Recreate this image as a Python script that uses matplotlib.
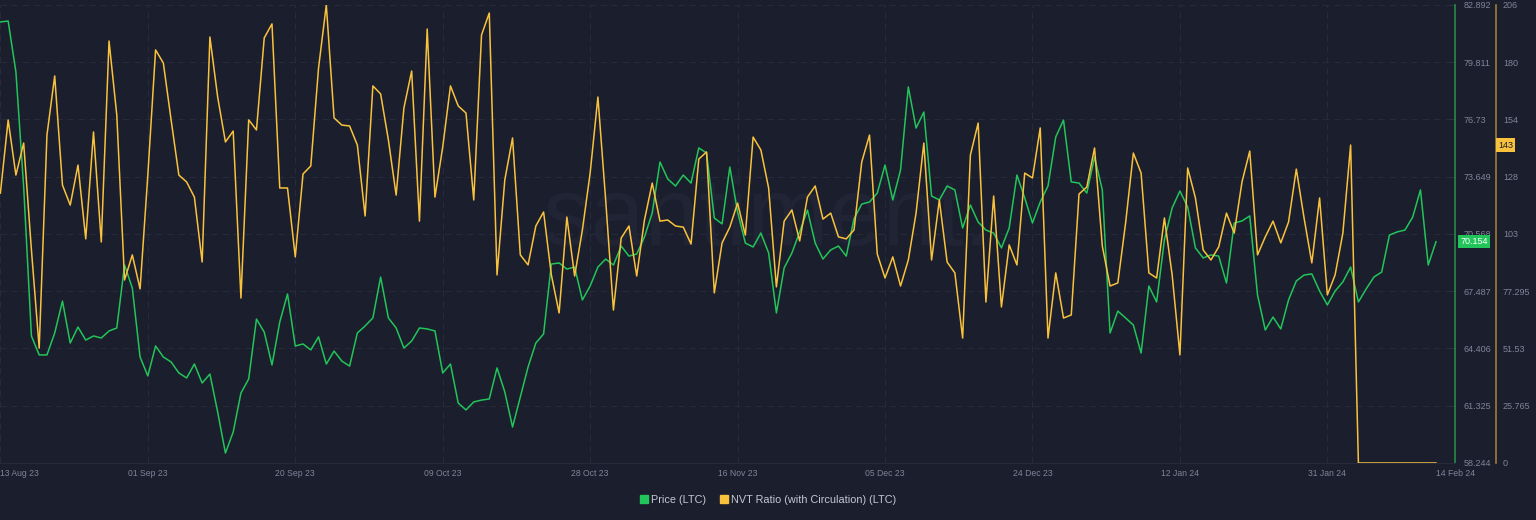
import matplotlib
matplotlib.use("Agg")
import matplotlib.pyplot as plt
import matplotlib.dates as mdates
from matplotlib.lines import Line2D
from matplotlib.transforms import blended_transform_factory
import pandas as pd

plt.rcParams["font.family"] = ["Liberation Sans", "DejaVu Sans"]

# daily values, 13 Aug 23 .. 14 Feb 24
price = [81.98, 82.03, 79.29, 73.10, 65.08, 64.06, 64.06, 65.24, 66.96, 64.70,
         65.56, 64.86, 65.08, 64.97, 65.35, 65.51, 68.90, 67.66, 63.95, 62.93,
         64.54, 63.95, 63.68, 63.09, 62.82, 63.57, 62.55, 63.03, 60.99, 58.78,
         59.91, 62.01, 62.77, 65.99, 65.29, 63.52, 65.83, 67.34, 64.54, 64.65,
         64.33, 65.03, 63.57, 64.27, 63.73, 63.46, 65.24, 65.62, 66.05, 68.25,
         66.05, 65.51, 64.43, 64.81, 65.51, 65.46, 65.35, 63.09, 63.57, 61.47,
         61.10, 61.53, 61.63, 61.69, 63.36, 62.07, 60.18, 61.80, 63.41, 64.70,
         65.19, 68.95, 69.01, 68.68, 68.79, 67.02, 67.77, 68.79, 69.22, 68.90,
         69.92, 69.38, 69.49, 70.41, 71.70, 74.44, 73.53, 73.15, 73.74, 73.31,
         75.20, 74.93, 71.43, 71.11, 74.17, 71.75, 70.08, 69.87, 70.62, 69.55,
         66.32, 68.74, 69.55, 70.68, 71.86, 70.08, 69.22, 69.71, 69.92, 69.38,
         71.38, 72.18, 72.29, 72.77, 74.28, 72.40, 74.01, 78.48, 76.27, 77.13,
         72.61, 72.40, 73.15, 72.94, 70.89, 72.13, 71.21, 70.78, 70.62, 69.82,
         70.89, 73.74, 72.51, 71.16, 72.29, 73.15, 75.79, 76.70, 73.37, 73.31,
         72.77, 74.71, 72.94, 65.24, 66.42, 66.05, 65.67, 64.16, 67.77, 66.91,
         70.25, 71.97, 72.88, 72.02, 69.82, 69.28, 69.44, 69.38, 67.93, 71.16,
         71.27, 71.54, 67.29, 65.40, 66.10, 65.46, 67.02, 68.04, 68.36, 68.42,
         67.50, 66.75, 67.50, 67.99, 68.79, 66.91, 67.61, 68.25, 68.52, 70.51,
         70.68, 70.78, 71.48, 72.94, 68.90, 70.154]

nvt = [121.4, 154.3, 129.5, 143.9, 95.8, 51.7, 147.5, 174.1, 125.0, 116.0,
       134.0, 100.8, 148.9, 99.4, 189.8, 156.5, 82.3, 93.6, 78.3, 129.5,
       185.8, 179.9, 154.3, 129.5, 126.4, 119.6, 90.4, 191.6, 164.6, 144.4,
       149.3, 74.2, 154.3, 149.8, 191.2, 197.5, 123.7, 123.7, 92.7, 130.0,
       133.6, 177.7, 206.0, 155.2, 152.0, 151.6, 143.0, 111.1, 169.6, 166.0,
       145.3, 120.5, 159.7, 176.3, 108.8, 195.2, 119.6, 142.1, 169.6, 160.6,
       157.4, 118.3, 192.5, 202.4, 84.6, 127.3, 146.2, 93.6, 89.1, 106.6,
       112.9, 84.6, 67.5, 110.6, 84.1, 104.8, 130.4, 164.6, 118.3, 68.8,
       101.2, 106.6, 84.1, 109.3, 125.9, 108.8, 109.3, 106.6, 106.1, 98.5,
       136.7, 139.9, 76.5, 99.0, 106.1, 116.9, 102.5, 146.6, 140.8, 123.7,
       79.2, 108.8, 113.8, 99.9, 119.6, 124.6, 109.7, 112.4, 101.7, 100.8,
       104.8, 135.4, 147.5, 94.0, 83.2, 92.7, 79.6, 91.3, 112.4, 143.9,
       91.3, 118.3, 90.4, 85.5, 56.2, 138.5, 152.9, 72.4, 120.1, 70.2,
       98.1, 89.1, 130.4, 128.2, 150.7, 56.2, 85.5, 65.2, 66.6, 121.0,
       124.1, 141.7, 97.6, 79.6, 81.0, 107.9, 139.4, 130.4, 85.5, 83.2,
       110.2, 84.6, 48.6, 132.7, 119.2, 95.8, 91.3, 97.2, 112.4, 103.4,
       126.4, 140.3, 93.6, 101.7, 108.8, 99.0, 108.4, 132.2, 110.2, 90.0,
       119.2, 75.6, 84.6, 103.4, 143.0, 0, 0, 0, 0, 0,
       0, 0, 0, 0, 0, 0]

dates = pd.date_range("2023-08-13", periods=len(price), freq="D")

price_ticks = [58.244, 61.325, 64.406, 67.487, 70.568, 73.649, 76.73, 79.811, 82.892]
price_labels = ["58.244", "61.325", "64.406", "67.487", "70.568", "73.649", "76.73", "79.811", "82.892"]
nvt_labels = ["0", "25.765", "51.53", "77.295", "103", "128", "154", "180", "206"]
date_ticks = pd.to_datetime(["2023-08-13", "2023-09-01", "2023-09-20", "2023-10-09", "2023-10-28",
                             "2023-11-16", "2023-12-05", "2023-12-24", "2024-01-12", "2024-01-31",
                             "2024-02-14"])

BG = "#1b1e2c"
GREEN = "#22c55a"
YELLOW = "#f8c23d"
GRID = "#262a3b"
TXT = "#80849a"

fig = plt.figure(figsize=(15.36, 5.2), dpi=100, facecolor=BG)
ax = fig.add_axes([0, 1 - 463 / 520, 1455 / 1536, 458 / 520])
ax.set_facecolor(BG)
ax2 = ax.twinx()

# grid
for d in date_ticks[:-1]:
    ax.axvline(d, color=GRID, lw=0.8, ls=(0, (6, 4)), zorder=0)
for t in price_ticks:
    ax.axhline(t, color=GRID, lw=0.8, ls=(0, (6, 4)), zorder=0)

ax.text(0.527, 0.53, "santiment.", transform=ax.transAxes, fontsize=70,
        color="#212435", ha="center", va="center", zorder=0)

ax.plot(dates, price, color=GREEN, lw=1.1, zorder=3)
ax2.plot(dates, nvt, color=YELLOW, lw=1.1, zorder=3)

x0 = mdates.date2num(dates[0])
x1 = mdates.date2num(dates[-1])
ax.set_xlim(x0 - 0.05, x1 + 2.45)
ax.set_ylim(price_ticks[0], price_ticks[-1])
ax2.set_ylim(0, 206)

ax.set_xticks(date_ticks)
ax.set_xticklabels([d.strftime("%d %b %y") for d in date_ticks])
ax.tick_params(axis="x", length=0, pad=4, labelsize=6.2, labelcolor=TXT)
xl = ax.get_xticklabels()
xl[0].set_ha("left")
xl[-1].set_ha("left")

ax.yaxis.tick_right()
ax.set_yticks(price_ticks)
ax.set_yticklabels(price_labels)
ax.tick_params(axis="y", direction="in", length=4, color="#2c3042", pad=6,
               labelsize=6.5, labelcolor=TXT)

ax2.set_yticks([206 * i / 8 for i in range(9)])
ax2.set_yticklabels(nvt_labels)
ax2.tick_params(axis="y", length=0, pad=5, labelsize=6.5, labelcolor=TXT)
ax2.spines["right"].set_position(("axes", 1496 / 1455))

for a in (ax, ax2):
    a.spines["top"].set_visible(False)
    a.spines["left"].set_visible(False)
    a.spines["bottom"].set_color("#262a3b")
ax.spines["right"].set_color("#2a8a48")
ax.spines["right"].set_linewidth(1.2)
ax2.spines["right"].set_color("#a07c35")
ax2.spines["right"].set_linewidth(1.2)
ax2.spines["bottom"].set_visible(False)

# last value badges
tr1 = blended_transform_factory(ax.transAxes, ax.transData)
ax.text(1.0035, price[-1], f"{price[-1]:.3f}", transform=tr1, fontsize=6.5,
        color="white", ha="left", va="center", zorder=10, clip_on=False,
        bbox=dict(boxstyle="square,pad=0.25", fc=GREEN, ec="none"))
tr2 = blended_transform_factory(ax2.transAxes, ax2.transData)
last_nvt = [v for v in nvt if v > 0][-1]
ax2.text(1496 / 1455 + 0.0015, last_nvt, f"{last_nvt:.0f}", transform=tr2, fontsize=6.5,
         color="#1b1e2c", ha="left", va="center", zorder=10, clip_on=False,
         bbox=dict(boxstyle="square,pad=0.25", fc=YELLOW, ec="none"))

handles = [Line2D([], [], ls="none", marker="s", ms=6, color=GREEN),
           Line2D([], [], ls="none", marker="s", ms=6, color=YELLOW)]
fig.legend(handles, ["Price (LTC)", "NVT Ratio (with Circulation) (LTC)"],
           loc="center", bbox_to_anchor=(0.5, 0.038), ncol=2, frameon=False,
           fontsize=7.8, labelcolor="#c5c8d3", handlelength=0.7,
           handletextpad=0.3, columnspacing=1.3)

fig.savefig("out.png", dpi=100, facecolor=BG)
